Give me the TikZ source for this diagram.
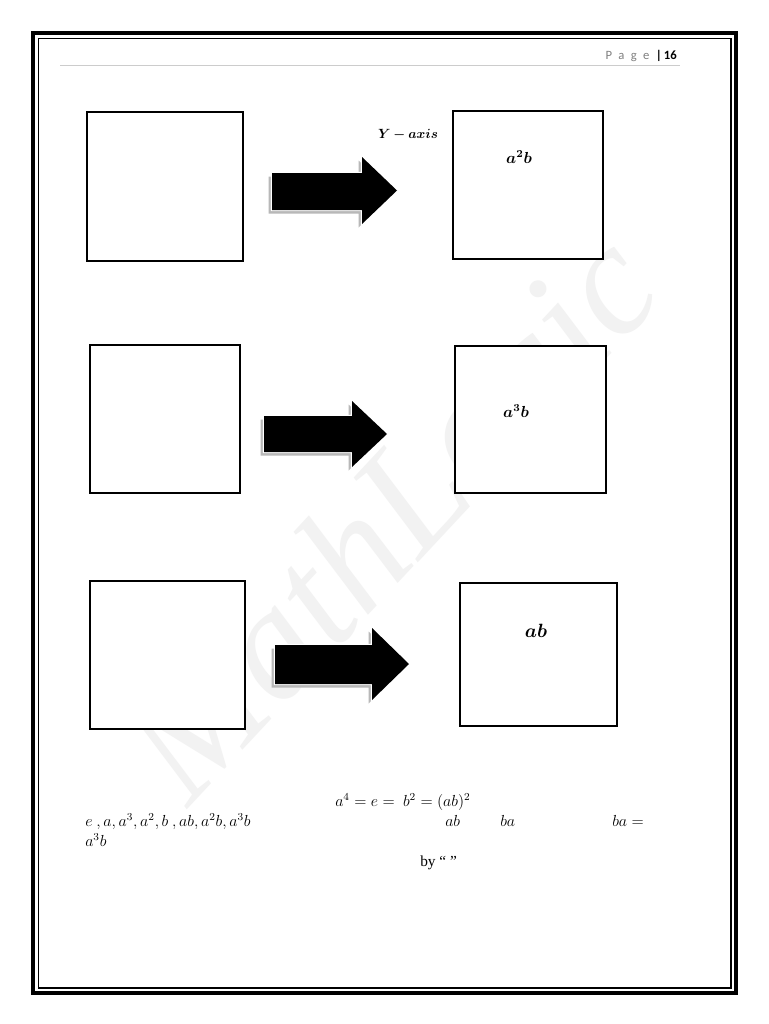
\documentclass[tikz,border=0pt]{standalone}
\usepackage{fontspec}
\usepackage{amsmath,bm}
\setmainfont{Liberation Serif}
\newfontfamily\calib{Carlito}
\usetikzlibrary{calc}
\tikzset{
  box/.style={draw=black, line width=1.7pt, fill=white, inner sep=0pt},
  lbl/.style={inner sep=0pt, font=\normalsize},
  mtxt/.style={inner sep=0pt, anchor=base west, font=\fontsize{11.5}{13}\selectfont},
}
\newcommand{\myarrowpath}[8]{(#1,#2) -- (#4,#2) -- (#4,#5) -- (#7,#8) -- (#4,#6) -- (#4,#3) -- (#1,#3) -- cycle}
\newcommand{\myarrow}[8]{%
  \fill[black!28, shift={(-3.5,3.5)}] \myarrowpath{#1}{#2}{#3}{#4}{#5}{#6}{#7}{#8};
  \draw[white, line width=1.8pt, fill=white] \myarrowpath{#1}{#2}{#3}{#4}{#5}{#6}{#7}{#8};
  \fill[black] \myarrowpath{#1}{#2}{#3}{#4}{#5}{#6}{#7}{#8};
}
\begin{document}
\begin{tikzpicture}[x=0.75pt, y=-0.75pt]
\useasboundingbox (0,0) rectangle (768,1024);
\fill[white] (0,0) rectangle (768,1024);
% watermark
\node[text=black!5, font=\fontsize{120}{120}\selectfont\itshape, rotate=47, inner sep=0pt] (wm) at (400,525) {MathLogic};
% page border
\draw[line width=3.5pt] (33,33) rectangle (736,993);
\draw[line width=0.8pt] (38.5,38.5) rectangle (731,988);
% header
\draw[black!20, line width=0.6pt] (60,65) -- (680,65);
\node[anchor=base east, inner sep=0pt, font=\calib\fontsize{9.5}{11}\selectfont] (hdr) at (677,60) {\textcolor{black!50}{P\,\,\,a\,\,\,g\,\,\,e}\,\,\,\textbf{|\,16}};
% boxes
\node[box, minimum width=117pt, minimum height=111.75pt] (b1) at (165,186.5) {};
\node[box, minimum width=112.5pt, minimum height=111pt] (b2) at (528,185) {};
\node[box, minimum width=112.5pt, minimum height=111pt] (b3) at (165,419) {};
\node[box, minimum width=113.25pt, minimum height=110.25pt] (b4) at (530.5,419.5) {};
\node[box, minimum width=116.25pt, minimum height=111pt] (b5) at (167.5,655) {};
\node[box, minimum width=117.75pt, minimum height=107.25pt] (b6) at (538.5,654.5) {};
% arrows
\myarrow{272}{173}{210}{362}{157}{224}{397}{190.5}
\myarrow{264}{416}{452}{352}{401}{467}{387}{434}
\myarrow{275}{645}{684}{372}{628}{700}{409}{664}
% labels
\node[lbl] (ya) at (408,135) {$\bm{Y-axis}$};
\node[lbl, font=\large] (l2) at (519,157) {$\bm{a^2b}$};
\node[lbl, font=\large] (l4) at (516,411) {$\bm{a^3b}$};
\node[lbl, font=\Large] (l6) at (536,631) {$\bm{ab}$};
% bottom text
\node[mtxt] (t1) at (335,806) {$a^4=e=\ b^2=(ab)^2$};
\node[mtxt] (t2) at (85,826) {$e\ ,a,a^3,a^2,b\ ,ab,a^2b,a^3b$};
\node[mtxt] (t3) at (445,826) {$ab$};
\node[mtxt] (t4) at (500,826) {$ba$};
\node[mtxt] (t5) at (612,826) {$ba=$};
\node[mtxt] (t6) at (85,846) {$a^3b$};
\node[mtxt] (t7) at (420,866) {by \textquotedblleft\ \textquotedblright};
\end{tikzpicture}
\end{document}
